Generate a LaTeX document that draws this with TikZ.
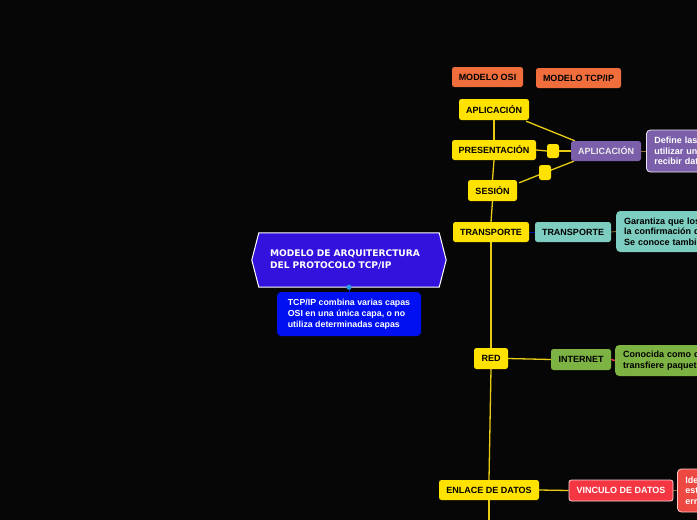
\documentclass[tikz,border=0pt]{standalone}
\usepackage{fontspec}
\setmainfont{Liberation Sans}
\newfontfamily\hexfont{DejaVu Sans}
\usetikzlibrary{backgrounds,calc}
\definecolor{bg}{RGB}{6,6,6}
\definecolor{cOrange}{RGB}{240,110,60}
\definecolor{cYellow}{RGB}{255,226,0}
\definecolor{cLine}{RGB}{232,204,20}
\definecolor{cPurple}{RGB}{123,95,170}
\definecolor{cTeal}{RGB}{125,206,192}
\definecolor{cGreen}{RGB}{124,179,66}
\definecolor{cRed}{RGB}{244,54,67}
\definecolor{cRedD}{RGB}{238,72,66}
\definecolor{cHex}{RGB}{50,18,220}
\definecolor{cNote}{RGB}{0,16,240}
\definecolor{cBrown}{RGB}{150,110,40}
\definecolor{cDot}{RGB}{40,150,230}
\tikzset{
  box/.style={rounded corners=2.5pt, inner sep=0pt, align=center,
     font=\bfseries\fontsize{9}{11}\selectfont, text=black},
  ybox/.style={box, fill=cYellow},
  obox/.style={box, fill=cOrange},
  desc/.style={rounded corners=4pt, inner xsep=8pt, inner ysep=0pt, align=left,
     font=\bfseries\fontsize{9}{10.6}\selectfont, text width=200pt, anchor=west},
  conn/.style={cLine, line width=1.3pt},
  tiny/.style={cBrown, line width=0.8pt},
}
\begin{document}
\begin{tikzpicture}[x=1pt,y=-1pt]
\useasboundingbox (0,0) rectangle (697,520);
\clip (0,0) rectangle (697,520);
% top labels
\node[obox, minimum width=71pt, minimum height=20pt] (osi) at (487.5,77) {MODELO OSI};
\node[obox, minimum width=85pt, minimum height=20pt] (tcp) at (578.5,78) {MODELO TCP/IP};
% OSI column
\node[ybox, minimum width=70pt, minimum height=21pt] (apl) at (494,109.5) {APLICACIÓN};
\node[ybox, minimum width=84pt, minimum height=20pt] (pres) at (494,150) {PRESENTACIÓN};
\node[ybox, minimum width=49pt, minimum height=21pt] (ses) at (492.5,190.5) {SESIÓN};
\node[ybox, minimum width=76pt, minimum height=20pt] (trans) at (491,232) {TRANSPORTE};
\node[ybox, minimum width=34pt, minimum height=21pt] (red) at (491,358.5) {RED};
\node[ybox, minimum width=100pt, minimum height=20pt] (enl) at (489,490) {ENLACE DE DATOS};
\coordinate (bot) at (489,525);
% small squares
\node[ybox, minimum width=12pt, minimum height=14pt] (sq1) at (553,151) {};
\node[ybox, minimum width=12pt, minimum height=15pt] (sq2) at (545,172.5) {};
% TCP/IP column
\node[box, fill=cPurple, text=white!92!black, minimum width=70pt, minimum height=20pt] (aplp) at (606,151) {APLICACIÓN};
\node[desc, fill=cPurple, draw=white!85!cPurple, line width=0.8pt, text=white, minimum height=42pt] (apld) at (646,151)
  {Define las\\utilizar un\\recibir dat};
\node[box, fill=cTeal, minimum width=76pt, minimum height=20pt] (transt) at (573,232) {TRANSPORTE};
\node[desc, fill=cTeal, text=black, minimum height=41pt] (transd) at (616,231.5)
  {Garantiza que los\\la confirmación d\\Se conoce tambie};
\node[box, fill=cGreen, minimum width=60pt, minimum height=21pt] (inet) at (581,359.5) {INTERNET};
\node[desc, fill=cGreen, text=black, minimum height=31pt] (inetd) at (615,360.5)
  {Conocida como c\\transfiere paquete};
\node[box, fill=cRed, draw=white!80!cRed, line width=0.8pt, text=white, minimum width=104pt, minimum height=21pt] (vinc) at (621,490.5) {VINCULO DE DATOS};
\node[desc, fill=cRedD, draw=white!70!cRedD, line width=0.8pt, text=white, minimum height=43pt] (vincd) at (677,490.5)
  {Ide\\est\\err};
% main topic
\node[inner xsep=18pt, inner ysep=0pt, text width=158pt, minimum height=54pt, text=white, align=left,
  font=\hexfont\bfseries\fontsize{9.1}{12}\selectfont] (main) at (349,260)
  {MODELO DE ARQUITERCTURA\\DEL PROTOCOLO TCP/IP};
\node[rounded corners=4pt, fill=cNote, text=white, inner sep=0pt, minimum width=144pt, minimum height=44pt,
  align=left, font=\bfseries\fontsize{8.8}{11}\selectfont] (note) at (349,314)
  {TCP/IP combina varias capas\\OSI en una única capa, o no\\utiliza determinadas capas};
\begin{pgfonlayer}{background}
  \fill[bg] (0,0) rectangle (697,520);
  % hexagon
  \filldraw[fill=cHex, draw=white, line width=1pt]
    (main.west) -- ($(main.north west)+(7,0)$)
    -- ($(main.north east)+(-7,0)$) -- (main.east)
    -- ($(main.south east)+(-7,0)$) -- ($(main.south west)+(7,0)$) -- cycle;
  \draw[cNote, line width=1pt] (main.south) -- (note.north);
  % OSI spine
  \draw[conn] (apl.south) -- (pres.north);
  \draw[conn] (pres.south) -- (ses.north);
  \draw[conn] (ses.south) -- (trans.north);
  \draw[conn] (trans.south) -- (red.north);
  \draw[conn] (red.south) -- (enl.north);
  \draw[conn] (enl.south) -- (bot);
  % to APLICACION (TCP/IP)
  \draw[conn] ($(apl.south east)+(-3,1)$) -- ($(aplp.north west)+(4,0)$);
  \draw[conn] (pres.east) -- (sq1.west);
  \draw[conn] (sq1.east) -- (aplp.west);
  \draw[conn] ($(ses.north east)+(2,3)$) -- (sq2.center) -- ($(aplp.south west)+(3,0)$);
  \draw[conn] (red.east) -- (inet.west);
  \draw[conn] (enl.east) -- (vinc.west);
  \draw[cNote!70!black, line width=0.8pt] (trans.east) -- (transt.west);
  \draw[tiny] (aplp.east) -- (apld.west);
  \draw[tiny] (transt.east) -- (transd.west);
  \draw[cRed, line width=1.4pt] (inet.east) -- (inetd.west);
  \draw[tiny] (vinc.east) -- (vincd.west);
\end{pgfonlayer}
\fill[cDot] (main.south) circle (2.6pt);
\end{tikzpicture}
\end{document}
